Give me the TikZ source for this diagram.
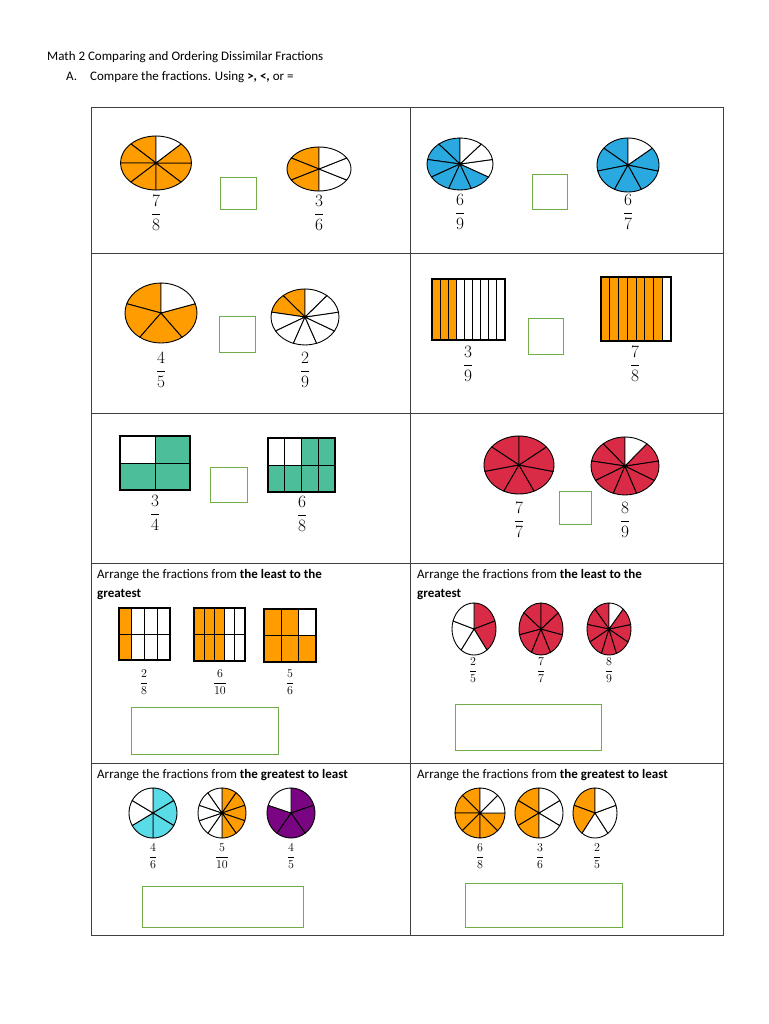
\documentclass[tikz,border=0pt]{standalone}
\usepackage{fontspec}
\setmainfont{Carlito}
\usetikzlibrary{calc}
\definecolor{org}{HTML}{FF9C00}
\definecolor{blu}{HTML}{29A9E0}
\definecolor{rd}{HTML}{D92B45}
\definecolor{tl}{HTML}{4DBE9A}
\definecolor{cy}{HTML}{5ADCE8}
\definecolor{pu}{HTML}{7A0582}
\definecolor{gb}{HTML}{70AD47}
\newcommand\mypie[8]{%
 \foreach \i in {1,...,#5}{%
  \pgfmathsetmacro\aa{90+#8*(\i-1)*360/#5}%
  \pgfmathsetmacro\ab{90+#8*\i*360/#5}%
  \ifnum\i>#6\def\cc{white}\else\def\cc{#7}\fi
  \filldraw[fill=\cc,draw=black,line width=0.9pt,line join=round] (#1,-#2) -- ($(#1,-#2)+(\aa:#3pt and #4pt)$) arc[start angle=\aa,end angle=\ab,x radius=#3pt,y radius=#4pt] -- cycle;
 }%
 \fill (#1,-#2) circle (1.3pt);
}
\newcommand\mygrid[8]{%
 \pgfmathsetmacro\cw{(#3-#1)/#5}%
 \pgfmathsetmacro\rh{(#4-#2)/#6}%
 \fill[#7] (#1,-#2) rectangle (#3,-#4);
 \foreach \c/\r in {#8}{%
  \fill[white] ({#1+(\c-1)*\cw},{-#2-(\r-1)*\rh}) rectangle ({#1+\c*\cw},{-#2-\r*\rh});
 }%
 \foreach \c in {1,...,#5}{\draw[line width=1pt] ({#1+\c*\cw},-#2) -- ({#1+\c*\cw},-#4);}
 \foreach \r in {1,...,#6}{\draw[line width=1pt] (#1,{-#2-\r*\rh}) -- (#3,{-#2-\r*\rh});}
 \draw[line width=1.2pt] (#1,-#2) rectangle (#3,-#4);
}
\tikzset{
 bigfr/.style={font=\fontsize{18}{18}\selectfont, inner sep=0pt},
 smfr/.style={font=\fontsize{12}{12}\selectfont, inner sep=0pt},
 ansbox/.style={draw=gb,line width=1pt},
 tline/.style={draw=black!75,line width=0.9pt},
 txt/.style={font=\fontsize{13}{13}\selectfont, anchor=base west, inner sep=0pt}
}
\begin{document}
\begin{tikzpicture}[x=1pt,y=1pt]
\useasboundingbox[fill=white] (0,0) rectangle (768,-1024);
\node[txt] (title) at (47,-61) {Math 2 Comparing and Ordering Dissimilar Fractions};
\node[txt] (a) at (66,-81) {A.};
\node[txt] (inst) at (90,-81) {Compare the fractions. Using \textbf{>, <,} or =};
% table
\draw[tline] (91,-107) rectangle (723,-935);
\foreach \yy in {253,413,563,763}{\draw[tline] (91,-\yy) -- (723,-\yy);}
\draw[tline] (410,-107) -- (410,-935);
% row 1
\mypie{156}{163}{35.5}{27}{8}{7}{org}{1}
\node[bigfr] (f1) at (156,-213) {$\displaystyle\frac{7}{8}$};
\draw[ansbox] (220,-178) rectangle (256,-210);
\mypie{319}{169}{32}{22}{6}{3}{org}{1}
\node[bigfr] (f2) at (319,-213) {$\displaystyle\frac{3}{6}$};
\mypie{460}{164}{33}{26}{9}{6}{blu}{1}
\node[bigfr] (f3) at (460,-212) {$\displaystyle\frac{6}{9}$};
\draw[ansbox] (532,-175) rectangle (567,-210);
\mypie{628}{165}{31}{27}{7}{6}{blu}{1}
\node[bigfr] (f4) at (628,-212) {$\displaystyle\frac{6}{7}$};
% row 2
\mypie{161}{313}{36}{30}{5}{4}{org}{1}
\node[bigfr] (f5) at (161,-370) {$\displaystyle\frac{4}{5}$};
\draw[ansbox] (219,-316) rectangle (255,-352);
\mypie{305}{317}{34}{28}{9}{2}{org}{1}
\node[bigfr] (f6) at (305,-370) {$\displaystyle\frac{2}{9}$};
\mygrid{432}{279}{505}{340}{9}{1}{org}{4/1,5/1,6/1,7/1,8/1,9/1}
\node[bigfr] (f7) at (468,-364) {$\displaystyle\frac{3}{9}$};
\draw[ansbox] (528,-318) rectangle (563,-354);
\mygrid{601}{277}{671}{341}{8}{1}{org}{8/1}
\node[bigfr] (f8) at (635,-364) {$\displaystyle\frac{7}{8}$};
% row 3
\mygrid{120}{436}{190}{490}{2}{2}{tl}{1/1}
\node[bigfr] (f9) at (155,-513) {$\displaystyle\frac{3}{4}$};
\draw[ansbox] (210,-467) rectangle (247,-502);
\mygrid{268}{438}{335}{492}{4}{2}{tl}{1/1,2/1}
\node[bigfr] (f10) at (302,-514) {$\displaystyle\frac{6}{8}$};
\mypie{519}{465}{35}{29}{7}{7}{rd}{1}
\node[bigfr] (f11) at (519,-520) {$\displaystyle\frac{7}{7}$};
\draw[ansbox] (559,-491) rectangle (591,-524);
\mypie{625}{466}{34}{29}{9}{8}{rd}{1}
\node[bigfr] (f12) at (625,-520) {$\displaystyle\frac{8}{9}$};
% row 4
\node[txt] (t1) at (97,-578) {Arrange the fractions from \textbf{the least to the}};
\node[txt] (t1b) at (97,-597) {\textbf{greatest}};
\node[txt] (t2) at (417,-578) {Arrange the fractions from \textbf{the least to the}};
\node[txt] (t2b) at (417,-597) {\textbf{greatest}};
\mygrid{119}{608}{170}{660}{4}{2}{org}{2/1,3/1,4/1,2/2,3/2,4/2}
\node[smfr] (g1) at (144,-682) {$\displaystyle\frac{2}{8}$};
\mygrid{194}{608}{245}{661}{5}{2}{org}{4/1,5/1,4/2,5/2}
\node[smfr] (g2) at (220,-682) {$\displaystyle\frac{6}{10}$};
\mygrid{264}{609}{316}{662}{3}{2}{org}{3/1}
\node[smfr] (g3) at (290,-682) {$\displaystyle\frac{5}{6}$};
\draw[ansbox] (131,-707) rectangle (278,-754);
\mypie{474}{629}{22}{26}{5}{2}{rd}{-1}
\node[smfr] (g4) at (473,-670) {$\displaystyle\frac{2}{5}$};
\mypie{541}{629}{22}{26}{7}{7}{rd}{1}
\node[smfr] (g5) at (541,-670) {$\displaystyle\frac{7}{7}$};
\mypie{609}{629}{22}{26}{9}{8}{rd}{1}
\node[smfr] (g6) at (609,-670) {$\displaystyle\frac{8}{9}$};
\draw[ansbox] (455,-704) rectangle (601,-750);
% row 5
\node[txt] (t3) at (97,-778) {Arrange the fractions from \textbf{the greatest to least}};
\node[txt] (t4) at (417,-778) {Arrange the fractions from \textbf{the greatest to least}};
\mypie{153}{813}{24}{25}{6}{4}{cy}{-1}
\node[smfr] (h1) at (153,-856) {$\displaystyle\frac{4}{6}$};
\mypie{222}{813}{24}{25}{10}{5}{org}{-1}
\node[smfr] (h2) at (222,-856) {$\displaystyle\frac{5}{10}$};
\mypie{291}{813}{24}{25}{5}{4}{pu}{-1}
\node[smfr] (h3) at (291,-856) {$\displaystyle\frac{4}{5}$};
\draw[ansbox] (142,-886) rectangle (303,-927);
\mypie{480}{813}{25}{25}{8}{6}{org}{1}
\node[smfr] (h4) at (480,-856) {$\displaystyle\frac{6}{8}$};
\mypie{539}{813}{24}{25}{6}{3}{org}{1}
\node[smfr] (h5) at (540,-856) {$\displaystyle\frac{3}{6}$};
\mypie{595}{813}{22}{25}{5}{2}{org}{1}
\node[smfr] (h6) at (597,-856) {$\displaystyle\frac{2}{5}$};
\draw[ansbox] (465,-883) rectangle (622,-927);
\end{tikzpicture}
\end{document}
